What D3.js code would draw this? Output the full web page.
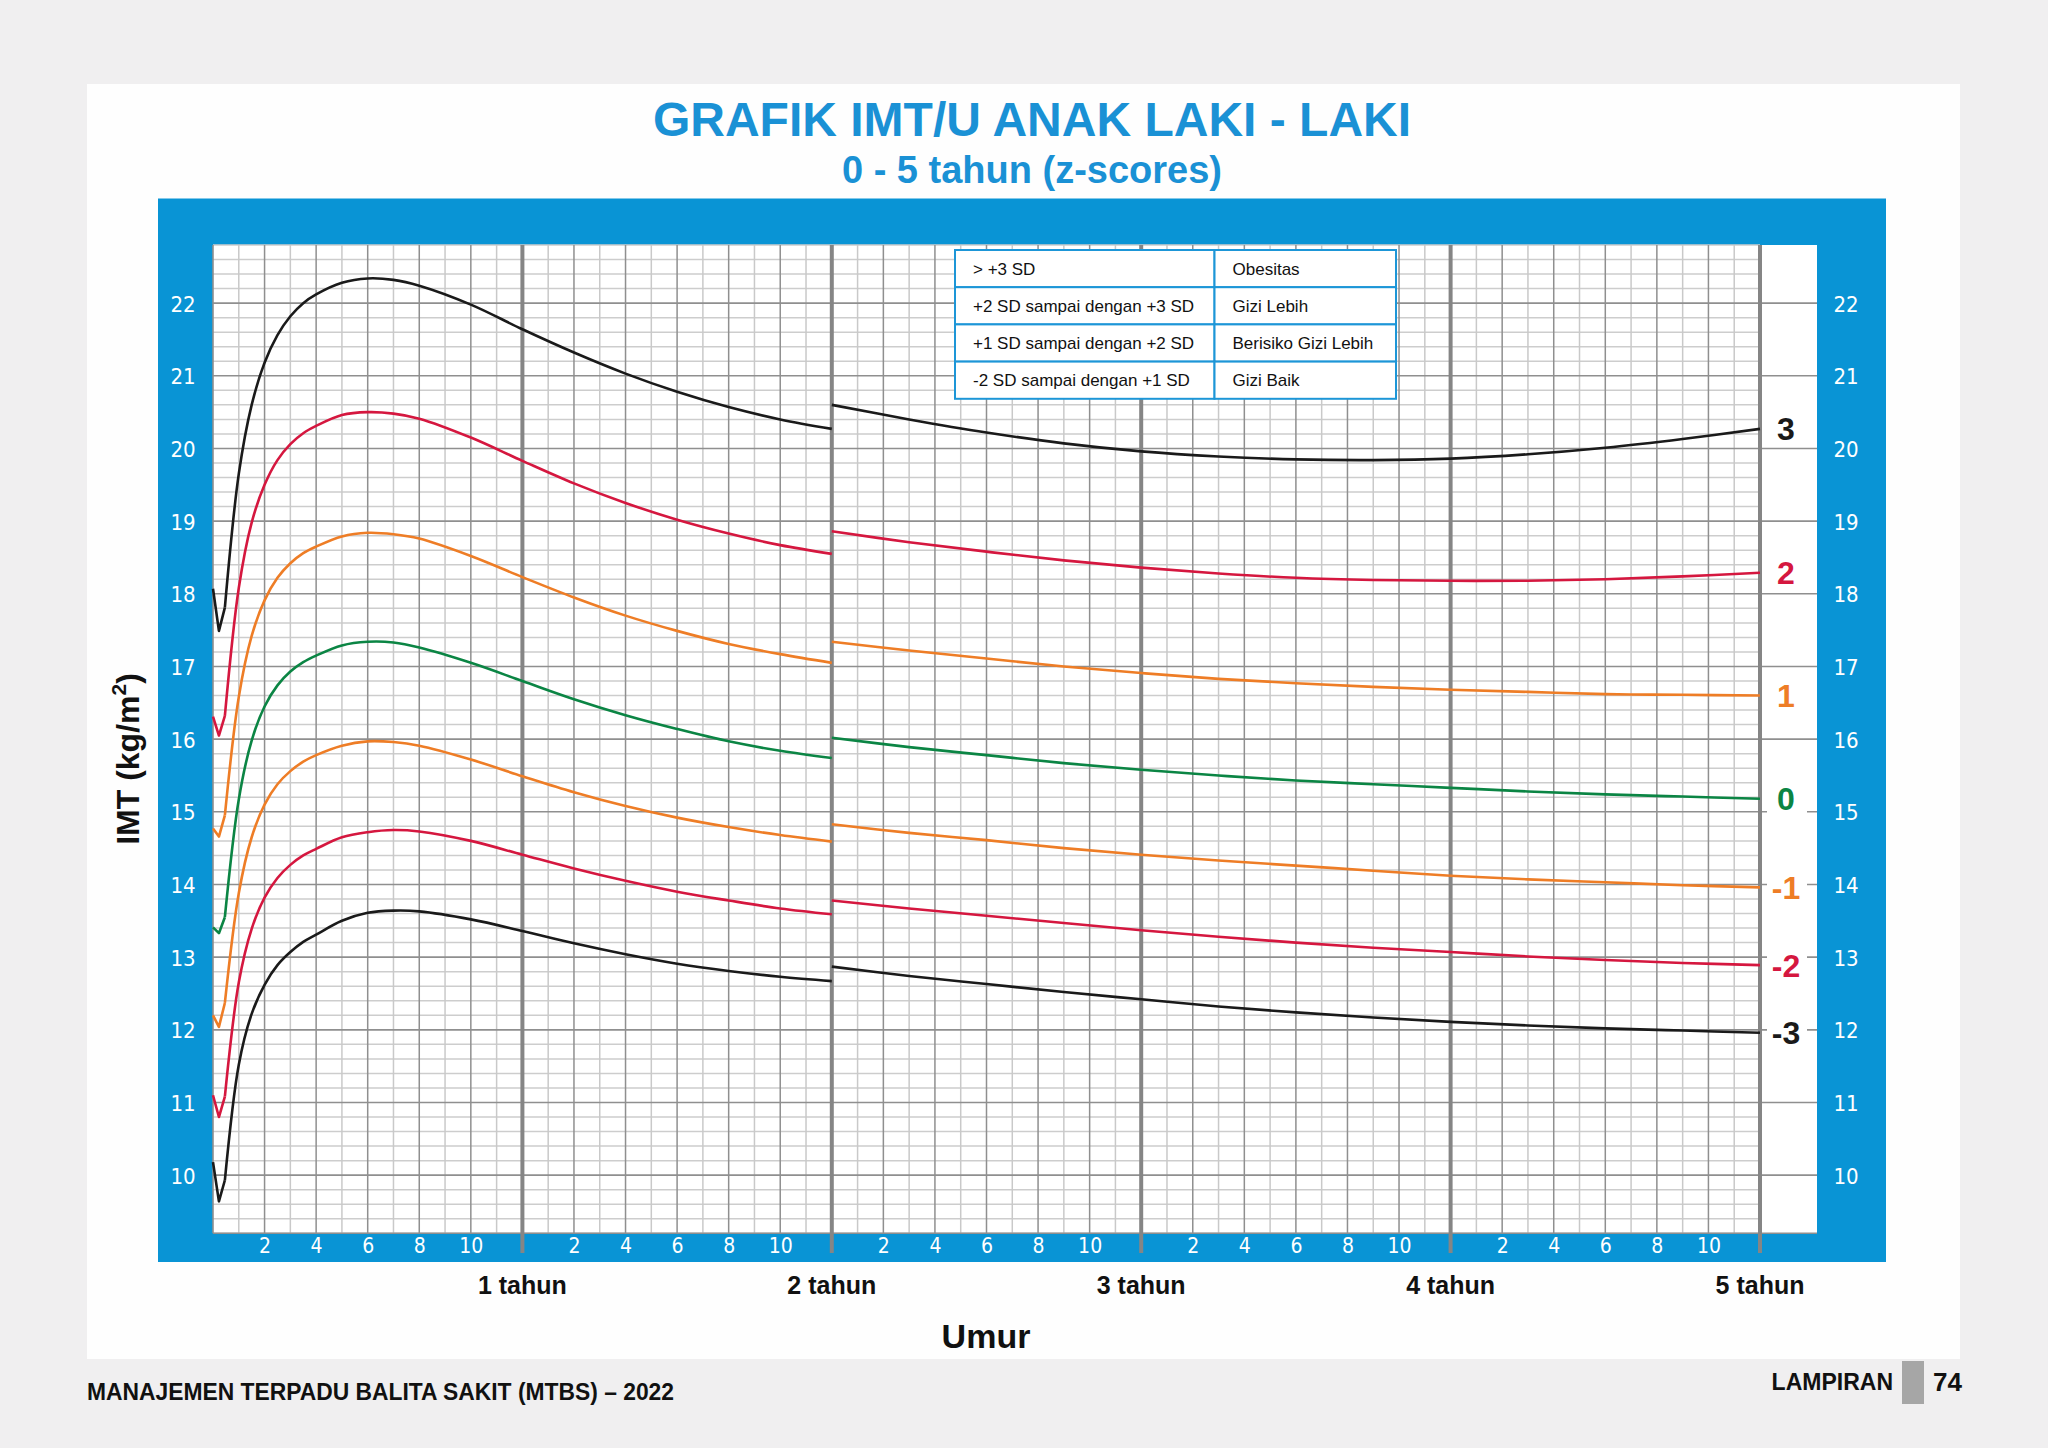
<!DOCTYPE html>
<html lang="id">
<head>
<meta charset="UTF-8">
<title>Grafik IMT/U Anak Laki-laki 0-5 tahun</title>
<style>
  body { margin: 0; background: #f0eff0; }
  svg { display: block; }
  .narrow { font-family: "Liberation Sans Narrow", "DejaVu Sans Condensed", "Arial Narrow", sans-serif; }
  .bold { font-family: "Liberation Sans", Arial, sans-serif; font-weight: bold; }
</style>
</head>
<body>
<svg id="chart"></svg>
<script src="https://d3js.org/d3.v7.min.js"></script>
<script>
// ---- data (BMI, kg/m2) ----
// 0-24 bulan (panjang badan); 0.23 / 0.46 = minggu ke-1 / ke-2
const months1 = [0, 0.23, 0.46, 1, 1.5, 2, 2.5, 3, 3.5, 4, 5, 6, 7, 8, 10, 12, 14, 16, 18, 20, 22, 24];
const sd3a  = [18.07, 17.49, 17.81, 19.65, 20.60, 21.18, 21.56, 21.82, 22.00, 22.12, 22.28, 22.34, 22.32, 22.24, 21.98, 21.64, 21.32, 21.03, 20.78, 20.57, 20.40, 20.27];
const sd2a  = [16.31, 16.05, 16.32, 18.08, 18.98, 19.50, 19.84, 20.06, 20.21, 20.31, 20.46, 20.50, 20.48, 20.41, 20.15, 19.83, 19.52, 19.25, 19.02, 18.83, 18.67, 18.55];
const sd1a  = [14.77, 14.66, 14.95, 16.58, 17.42, 17.91, 18.22, 18.42, 18.56, 18.65, 18.79, 18.84, 18.82, 18.76, 18.52, 18.23, 17.95, 17.70, 17.49, 17.31, 17.17, 17.05];
const sd0a  = [13.41, 13.33, 13.55, 15.17, 15.98, 16.45, 16.74, 16.93, 17.06, 17.15, 17.29, 17.34, 17.33, 17.26, 17.05, 16.80, 16.55, 16.33, 16.14, 15.97, 15.84, 15.74];
const sdm1a = [12.20, 12.04, 12.37, 13.88, 14.65, 15.10, 15.38, 15.56, 15.69, 15.78, 15.91, 15.97, 15.96, 15.91, 15.72, 15.49, 15.27, 15.08, 14.92, 14.79, 14.68, 14.59];
const sdm2a = [11.10, 10.80, 11.08, 12.65, 13.39, 13.82, 14.09, 14.27, 14.40, 14.49, 14.65, 14.72, 14.75, 14.73, 14.60, 14.41, 14.22, 14.05, 13.90, 13.78, 13.67, 13.59];
const sdm3a = [10.18, 9.64, 9.93, 11.52, 12.22, 12.62, 12.89, 13.07, 13.21, 13.31, 13.50, 13.61, 13.64, 13.63, 13.52, 13.36, 13.19, 13.04, 12.91, 12.81, 12.73, 12.67];

// 24-60 bulan (tinggi badan)
const months2 = [24, 27, 30, 33, 36, 39, 42, 45, 48, 51, 54, 57, 60];
const sd3b  = [20.60, 20.40, 20.22, 20.07, 19.96, 19.89, 19.85, 19.84, 19.86, 19.92, 20.01, 20.13, 20.27];
const sd2b  = [18.86, 18.71, 18.58, 18.46, 18.36, 18.28, 18.22, 18.19, 18.18, 18.18, 18.20, 18.24, 18.29];
const sd1b  = [17.34, 17.22, 17.11, 17.00, 16.91, 16.83, 16.77, 16.72, 16.68, 16.65, 16.62, 16.61, 16.60];
const sd0b  = [16.02, 15.89, 15.78, 15.67, 15.58, 15.50, 15.43, 15.38, 15.33, 15.28, 15.24, 15.21, 15.18];
const sdm1b = [14.83, 14.71, 14.61, 14.50, 14.41, 14.33, 14.26, 14.19, 14.12, 14.07, 14.03, 13.99, 13.96];
const sdm2b = [13.78, 13.67, 13.57, 13.47, 13.37, 13.28, 13.20, 13.13, 13.07, 13.01, 12.96, 12.92, 12.89];
const sdm3b = [12.87, 12.74, 12.63, 12.52, 12.42, 12.32, 12.24, 12.17, 12.11, 12.06, 12.02, 11.99, 11.96];

const zLabels = ["3", "2", "1", "0", "-1", "-2", "-3"];
const zColors = ["#1a1a1a", "#d5173f", "#ee7d26", "#0b8544", "#ee7d26", "#d5173f", "#1a1a1a"];
const seriesA = [sd3a, sd2a, sd1a, sd0a, sdm1a, sdm2a, sdm3a];
const seriesB = [sd3b, sd2b, sd1b, sd0b, sdm1b, sdm2b, sdm3b];

const yTicks = [10, 11, 12, 13, 14, 15, 16, 17, 18, 19, 20, 21, 22];
const yearLabels = ["1 tahun", "2 tahun", "3 tahun", "4 tahun", "5 tahun"];

const legendRange = ["> +3 SD", "+2 SD sampai dengan +3 SD", "+1 SD sampai dengan +2 SD", "-2 SD sampai dengan +1 SD"];
const legendStatus = ["Obesitas", "Gizi Lebih", "Berisiko Gizi Lebih", "Gizi Baik"];

// ---- layout ----
const W = 2048, H = 1448;
const blue = "#0994d5";
const svg = d3.select("#chart").attr("width", W).attr("height", H);

svg.append("rect").attr("width", W).attr("height", H).attr("fill", "#f0eff0");
svg.append("rect").attr("x", 87).attr("y", 84).attr("width", 1873).attr("height", 1275).attr("fill", "#fefefe");
svg.append("rect").attr("x", 158).attr("y", 198.5).attr("width", 1728).attr("height", 1063.5).attr("fill", blue);

const x = d3.scaleLinear().domain([0, 60]).range([213, 1760]);
const y = d3.scaleLinear().domain([9.2, 22.8]).range([1233.3, 245]);
const rightEdge = 1817;

svg.append("rect").attr("x", x(0)).attr("y", y(22.8))
  .attr("width", rightEdge - x(0)).attr("height", y(9.2) - y(22.8)).attr("fill", "#fff");

const grid = svg.append("g");
// minor horizontal (0.2)
const minorY = d3.range(46, 115).map(d => d / 5).filter(d => Math.abs(d - Math.round(d)) > 0.01);
grid.selectAll(".hmin").data(minorY).join("line")
  .attr("x1", x(0)).attr("x2", x(60)).attr("y1", d => y(d)).attr("y2", d => y(d))
  .attr("stroke", "#cdcdcd").attr("stroke-width", 1.5);
// vertical month lines
const monthLines = d3.range(1, 60).filter(m => m % 12 !== 0);
grid.selectAll(".vmin").data(monthLines).join("line")
  .attr("x1", d => x(d)).attr("x2", d => x(d)).attr("y1", y(22.8)).attr("y2", y(9.2))
  .attr("stroke", d => d % 2 ? "#c9c9c9" : "#8f8f8f").attr("stroke-width", 1.5);
// integer horizontal lines
grid.selectAll(".hmaj").data(d3.range(10, 23)).join("line")
  .attr("x1", x(0)).attr("x2", rightEdge).attr("y1", d => y(d)).attr("y2", d => y(d))
  .attr("stroke", "#8f8f8f").attr("stroke-width", 1.6);
// borders
grid.append("line").attr("x1", x(0)).attr("x2", x(0)).attr("y1", y(22.8)).attr("y2", y(9.2))
  .attr("stroke", "#8f8f8f").attr("stroke-width", 1.6);
grid.append("line").attr("x1", x(0)).attr("x2", rightEdge).attr("y1", y(9.2)).attr("y2", y(9.2))
  .attr("stroke", "#8f8f8f").attr("stroke-width", 1.6);
// year lines
grid.selectAll(".year").data([12, 24, 36, 48, 60]).join("line")
  .attr("x1", d => x(d)).attr("x2", d => x(d)).attr("y1", y(22.8)).attr("y2", 1253)
  .attr("stroke", "#858585").attr("stroke-width", 4);

// ---- curves ----
// weekly start (0, w1, w2) is drawn straight, the rest smooth
const lineWeeks = d3.line().x(d => x(d[0])).y(d => y(d[1]));
const lineSmooth = d3.line().x(d => x(d[0])).y(d => y(d[1])).curve(d3.curveCatmullRom.alpha(0.5));
const curves = svg.append("g").attr("fill", "none").attr("stroke-width", 2.6).attr("stroke-linejoin", "round");
seriesA.forEach((s, i) => {
  const pts = months1.map((m, j) => [m, s[j]]);
  curves.append("path").attr("d", lineWeeks(pts.slice(0, 3))).attr("stroke", zColors[i]);
  curves.append("path").attr("d", lineSmooth(pts.slice(2))).attr("stroke", zColors[i]);
});
seriesB.forEach((s, i) => {
  curves.append("path").attr("d", lineSmooth(months2.map((m, j) => [m, s[j]]))).attr("stroke", zColors[i]);
});

// z-score labels
const zl = svg.append("g");
seriesB.forEach((s, i) => {
  const yy = y(s[s.length - 1]);
  zl.append("rect").attr("x", 1767).attr("y", yy - 15).attr("width", 40).attr("height", 30).attr("fill", "#fff");
  zl.append("text").attr("class", "bold").attr("x", 1786).attr("y", yy).attr("dy", "0.36em")
    .attr("text-anchor", "middle").attr("font-size", 32).attr("fill", zColors[i]).text(zLabels[i]);
});

// ---- axes ----
const yl = svg.append("g").attr("transform", "translate(183,0)").attr("class", "narrow")
  .call(d3.axisLeft(y).tickValues(yTicks).tickSize(0));
const yr = svg.append("g").attr("transform", "translate(1846,0)").attr("class", "narrow")
  .call(d3.axisRight(y).tickValues(yTicks).tickSize(0));
[yl, yr].forEach(g => {
  g.select(".domain").remove();
  g.selectAll("text").attr("x", 0).attr("dy", "0.36em").attr("text-anchor", "middle")
    .attr("fill", "#fff").attr("font-size", 22).style("font-family", null);
});

const monthTicks = d3.range(2, 60, 2).filter(m => m % 12 !== 0);
const xa = svg.append("g").attr("transform", "translate(0,1245)").attr("class", "narrow")
  .call(d3.axisBottom(x).tickValues(monthTicks).tickSize(0).tickFormat(d => d % 12));
xa.select(".domain").remove();
xa.selectAll("text").attr("y", 0).attr("dy", "0.36em").attr("fill", "#fff").attr("font-size", 21);

svg.append("g").selectAll("text").data(yearLabels).join("text")
  .attr("class", "bold").attr("x", (d, i) => x((i + 1) * 12)).attr("y", 1294)
  .attr("text-anchor", "middle").attr("font-size", 25).attr("fill", "#111").text(d => d);

svg.append("text").attr("class", "bold").attr("x", 986).attr("y", 1348)
  .attr("text-anchor", "middle").attr("font-size", 34).attr("fill", "#111").text("Umur");

const yt = svg.append("text").attr("class", "bold").attr("transform", "translate(139,759) rotate(-90)")
  .attr("text-anchor", "middle").attr("font-size", 32).attr("fill", "#111");
yt.append("tspan").text("IMT (kg/m");
yt.append("tspan").attr("font-size", 21).attr("dy", -13).text("2");
yt.append("tspan").attr("dy", 13).text(")");

// ---- titles ----
svg.append("text").attr("class", "bold").attr("x", 1032).attr("y", 136)
  .attr("text-anchor", "middle").attr("font-size", 48).attr("fill", "#1a91d5").text("GRAFIK IMT/U ANAK LAKI - LAKI");
svg.append("text").attr("class", "bold").attr("x", 1032).attr("y", 183)
  .attr("text-anchor", "middle").attr("font-size", 38).attr("fill", "#1a91d5").text("0 - 5 tahun (z-scores)");

// ---- legend table ----
const lg = svg.append("g").attr("transform", "translate(955,250)");
const rowH = 37.2, c1 = 259.5, c2 = 181.5;
legendRange.forEach((r, i) => {
  lg.append("rect").attr("x", 0).attr("y", i * rowH).attr("width", c1).attr("height", rowH)
    .attr("fill", "#fff").attr("stroke", "#1d96d7").attr("stroke-width", 2);
  lg.append("rect").attr("x", c1).attr("y", i * rowH).attr("width", c2).attr("height", rowH)
    .attr("fill", "#fff").attr("stroke", "#1d96d7").attr("stroke-width", 2);
  lg.append("text").attr("x", 18).attr("y", i * rowH + rowH / 2 + 6)
    .attr("font-family", "Liberation Sans, Arial, sans-serif").attr("font-size", 17).attr("fill", "#111").text(r);
  lg.append("text").attr("x", c1 + 18).attr("y", i * rowH + rowH / 2 + 6)
    .attr("font-family", "Liberation Sans, Arial, sans-serif").attr("font-size", 17).attr("fill", "#111").text(legendStatus[i]);
});

// ---- footer ----
svg.append("text").attr("class", "bold").attr("x", 87).attr("y", 1400)
  .attr("font-size", 23).attr("fill", "#111").attr("textLength", 587).attr("lengthAdjust", "spacingAndGlyphs")
  .text("MANAJEMEN TERPADU BALITA SAKIT (MTBS) – 2022");
svg.append("text").attr("class", "bold").attr("x", 1893).attr("y", 1390)
  .attr("text-anchor", "end").attr("font-size", 23).attr("fill", "#111").text("LAMPIRAN");
svg.append("rect").attr("x", 1902).attr("y", 1361).attr("width", 22).attr("height", 43).attr("fill", "#a6a6a6");
svg.append("text").attr("class", "bold").attr("x", 1933).attr("y", 1391)
  .attr("font-size", 26).attr("fill", "#111").text("74");
</script>
</body>
</html>
